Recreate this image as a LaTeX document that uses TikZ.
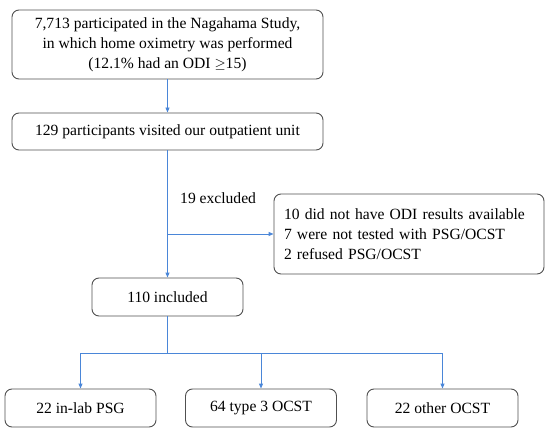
\documentclass[tikz,border=0pt]{standalone}
\usepackage{fontspec}
\setmainfont{Liberation Serif}
\usetikzlibrary{arrows.meta}
\definecolor{flowblue}{RGB}{74,134,216}
\definecolor{boxgray}{RGB}{80,80,80}
\tikzset{
    stepbox/.style={draw=boxgray, line width=0.9pt, rounded corners=7pt,
        font=\fontsize{15.6}{19.8}\selectfont, align=center, inner sep=0pt},
    flowline/.style={draw=flowblue, line width=0.9pt},
    flowarrow/.style={flowline, -{Triangle[length=5pt,width=4pt]}}
}
\begin{document}
\begin{tikzpicture}[x=1pt, y=-1pt]
    \useasboundingbox (0,0) rectangle (550,436);
    \node[stepbox, minimum width=311pt, minimum height=69pt] (study) at (167.5,44.5)
        {7,713 participated in the Nagahama Study,\\
         in which home oximetry was performed\\
         (12.1\% had an ODI $\geq$15)};
    \node[stepbox, minimum width=311pt, minimum height=37pt] (visit) at (167.5,131.5)
        {129 participants visited our outpatient unit};
    \node[stepbox, align=left, text width=250pt, inner xsep=10pt, minimum height=80pt] (excl) at (409,234)
        {10 did not have ODI results available\\
         7 were not tested with PSG/OCST\\
         2 refused PSG/OCST};
    \node[font=\fontsize{15.6}{19.8}\selectfont, anchor=west, inner sep=0pt] (exlab) at (180,198) {19 excluded};
    \node[stepbox, minimum width=151pt, minimum height=38pt] (incl) at (167.5,297) {110 included};

    \node[stepbox, minimum width=151pt, minimum height=38pt] (psg) at (80.5,408) {22 in-lab PSG};
    \node[stepbox, minimum width=151pt, minimum height=38pt] (type3) at (261,408) {64 type 3 OCST};
    \node[stepbox, minimum width=151pt, minimum height=38pt] (other) at (442.5,408) {22 other OCST};

    \coordinate (split) at (167.5,234);
    \coordinate (fork) at (167.5,353);

    \draw[flowarrow] (study) -- (visit);
    \draw[flowarrow] (visit) -- (incl);
    \draw[flowarrow] (split) -- (excl);
    \draw[flowline] (incl) -- (fork);
    \foreach \n in {psg,type3,other}
        {\draw[flowarrow] (fork) -| (\n);}
\end{tikzpicture}
\end{document}
